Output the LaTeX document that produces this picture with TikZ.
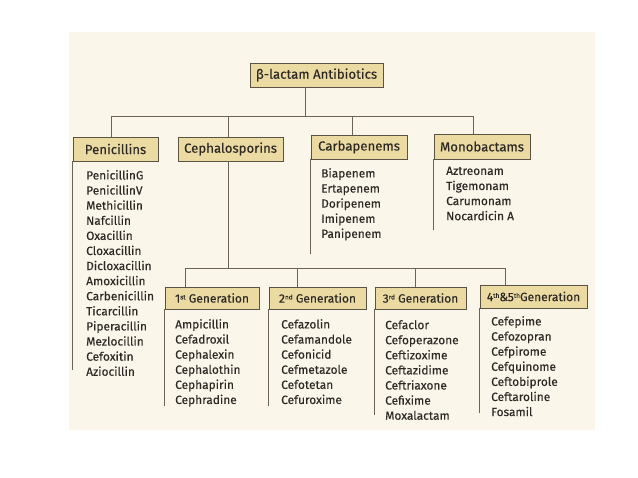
\documentclass[tikz,border=0pt]{standalone}
\usepackage{fontspec}
\setmainfont[FakeBold=0.3]{Fira Sans}
\definecolor{bgc}{RGB}{251,246,234}
\definecolor{boxc}{RGB}{235,219,163}
\definecolor{edgec}{RGB}{90,82,66}
\definecolor{linec}{RGB}{105,99,88}
\definecolor{txtc}{RGB}{45,42,38}
\newcommand{\supx}[1]{\raisebox{3.2pt}{\fontsize{6.5}{7}\selectfont #1}}
\begin{document}
\begin{tikzpicture}[x=1pt,y=1pt,
  hdr/.style={draw=edgec, fill=boxc, line width=0.9pt, inner sep=0pt, text=txtc, font=\fontsize{13.2}{15}\selectfont},
  gen/.style={draw=edgec, fill=boxc, line width=0.9pt, inner sep=0pt, text=txtc, font=\fontsize{12}{13}\selectfont},
  lst/.style={anchor=north west, align=left, inner sep=0pt, text=txtc, font=\fontsize{11.9}{15.1}\selectfont},
  conn/.style={draw=linec, line width=0.9pt}]
\useasboundingbox (0,0) rectangle (638,-478);
\fill[bgc] (69,-32) rectangle (595,-430);
% boxes
\node[hdr, minimum width=133, minimum height=24] (title) at (316.5,-75) {β-lactam Antibiotics};
\node[hdr, minimum width=85, minimum height=24] (pen) at (115.5,-149) {Penicillins};
\node[hdr, minimum width=105, minimum height=24] (ceph) at (230.5,-149) {Cephalosporins};
\node[hdr, minimum width=96, minimum height=24] (carb) at (359,-147) {Carbapenems};
\node[hdr, minimum width=96, minimum height=25] (mono) at (482,-146.5) {Monobactams};
\node[gen, minimum width=94, minimum height=22] (g1) at (212,-298) {1\supx{st} Generation};
\node[gen, minimum width=97, minimum height=22] (g2) at (317.5,-298) {2\supx{nd} Generation};
\node[gen, minimum width=91, minimum height=22] (g3) at (420.5,-298) {3\supx{rd} Generation};
\node[gen, minimum width=107, minimum height=23] (g4) at (533.5,-296.5) {4\supx{th}\&5\supx{th}Generation};
% bus junctions
\coordinate (jt) at (305,-116);
\coordinate (jpen) at (111,-116);
\coordinate (jceph) at (228,-116);
\coordinate (jcarb) at (352,-116);
\coordinate (jmono) at (473,-116);
\coordinate (jc) at (228,-268);
\coordinate (jg1) at (185,-268);
\coordinate (jg2) at (297,-268);
\coordinate (jg3) at (415,-268);
\coordinate (jg4) at (505,-268);
\draw[conn] (title.south -| jt) -- (jt);
\draw[conn] (jpen) -- (jmono);
\draw[conn] (jpen) -- (jpen |- pen.north);
\draw[conn] (jceph) -- (jceph |- ceph.north);
\draw[conn] (jcarb) -- (jcarb |- carb.north);
\draw[conn] (jmono) -- (jmono |- mono.north);
\draw[conn] (ceph.south -| jc) -- (jc);
\draw[conn] (jg1) -- (jg4);
\draw[conn] (jg1) -- (jg1 |- g1.north);
\draw[conn] (jg2) -- (jg2 |- g2.north);
\draw[conn] (jg3) -- (jg3 |- g3.north);
\draw[conn] (jg4) -- (jg4 |- g4.north);
% list side lines
\draw[conn] (pen.south west) -- ++(0,-209);
\draw[conn] (carb.south west) -- ++(0,-95);
\draw[conn] (mono.south west) -- ++(0,-71);
\draw[conn] (g1.south west) -- ++(0,-97);
\draw[conn] (g2.south west) -- ++(0,-97);
\draw[conn] (g3.south west) -- ++(0,-106);
\draw[conn] (g4.south west) -- ++(0,-105);
% lists
\node[lst] (lpen) at (86,-170) {PenicillinG\\PenicillinV\\Methicillin\\Nafcillin\\Oxacillin\\Cloxacillin\\Dicloxacillin\\Amoxicillin\\Carbenicillin\\Ticarcillin\\Piperacillin\\Mezlocillin\\Cefoxitin\\Aziocillin};
\node[lst] (lcarb) at (321,-168) {Biapenem\\Ertapenem\\Doripenem\\Imipenem\\Panipenem};
\node[lst] (lmono) at (446,-166.5) {Aztreonam\\Tigemonam\\Carumonam\\Nocardicin A};
\node[lst] (lg1) at (175,-319) {Ampicillin\\Cefadroxil\\Cephalexin\\Cephalothin\\Cephapirin\\Cephradine};
\node[lst] (lg2) at (281,-319) {Cefazolin\\Cefamandole\\Cefonicid\\Cefmetazole\\Cefotetan\\Cefuroxime};
\node[lst] (lg3) at (385,-320) {Cefaclor\\Cefoperazone\\Ceftizoxime\\Ceftazidime\\Ceftriaxone\\Cefixime\\Moxalactam};
\node[lst] (lg4) at (491,-316) {Cefepime\\Cefozopran\\Cefpirome\\Cefquinome\\Ceftobiprole\\Ceftaroline\\Fosamil};
\end{tikzpicture}
\end{document}
